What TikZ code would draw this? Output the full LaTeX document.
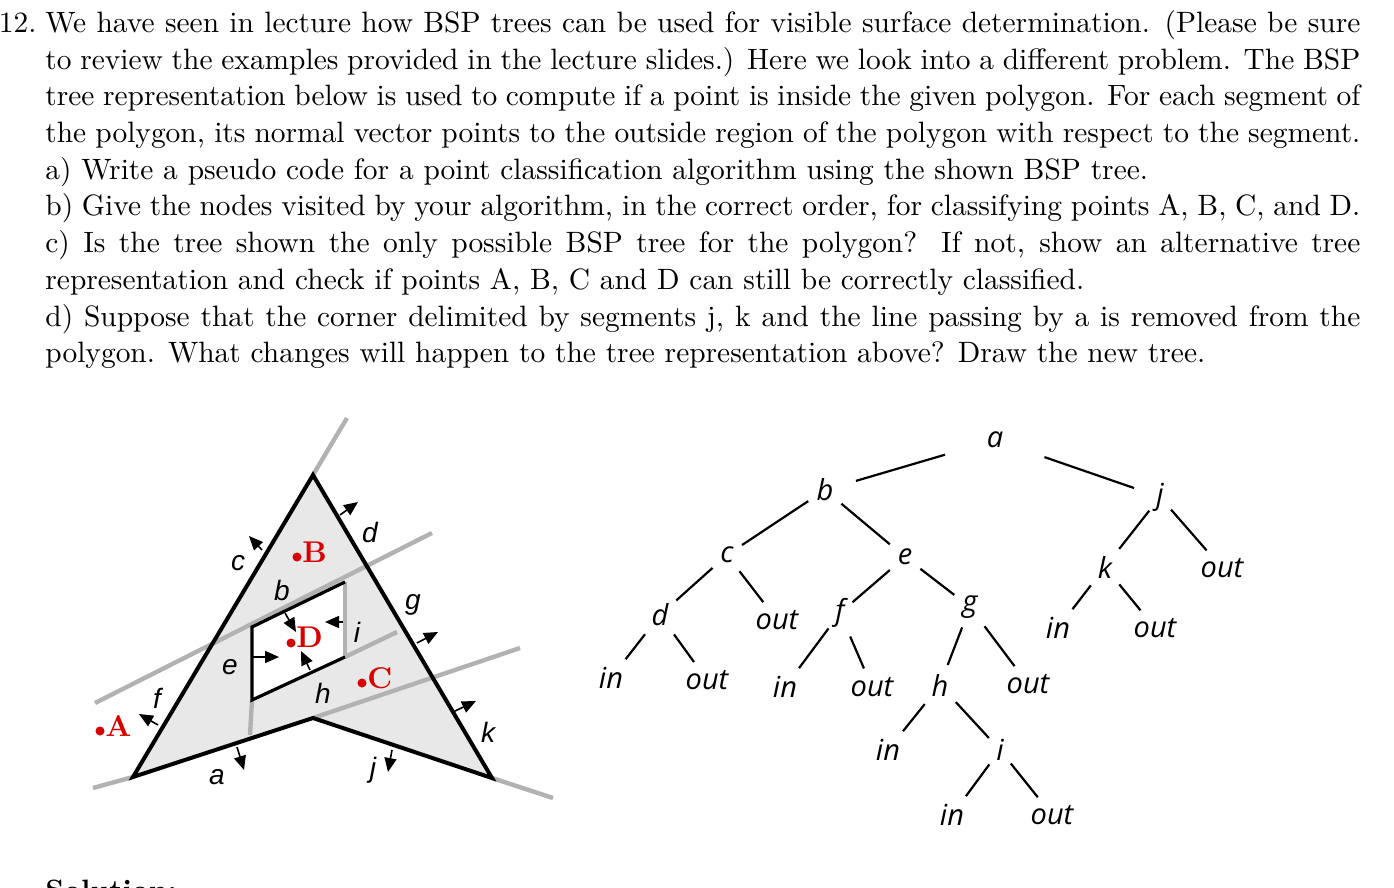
\documentclass[tikz,border=0pt]{standalone}
\usepackage{fontspec}
\setmainfont{lmroman10-regular.otf}[BoldFont=lmroman10-bold.otf,ItalicFont=lmroman10-italic.otf]
\newfontfamily\treefont{Open Sans}
\newfontfamily\figfont{Liberation Sans}
\usetikzlibrary{arrows.meta}
\begin{document}
\begin{tikzpicture}[x=0.5pt,y=-0.5pt,
  txt/.style={anchor=base west,inner sep=0,font=\fontsize{14.72}{18}\selectfont},
  tn/.style={font=\treefont\itshape\fontsize{14.5}{16}\selectfont,inner sep=1.5pt},
  te/.style={line width=1.1pt,shorten <=3pt,shorten >=3pt},
  gl/.style={line width=2.2pt,gray!60},
  edge/.style={line width=2pt,line join=miter},
  nrm/.style={line width=0.8pt,-{Triangle[length=7pt,width=6pt]}},
  fl/.style={font=\figfont\itshape\fontsize{14}{15}\selectfont,inner sep=0},
  pt/.style={font=\bfseries\fontsize{15}{16}\selectfont,text=red!85!black,inner sep=0},
  dot/.style={circle,fill=red!85!black,inner sep=0,minimum size=4.5pt}]
\useasboundingbox (0,0) rectangle (1394,888);
% text
\def\W{657.5pt}
\node[txt,anchor=base east] (n12) at (37,33) {12.};
\node[txt] (l1) at (45,33) {\makebox[\W][s]{We have seen in lecture how BSP trees can be used for visible surface determination. (Please be sure}};
\node[txt] (l2) at (45,70) {\makebox[\W][s]{to review the examples provided in the lecture slides.) Here we look into a different problem. The BSP}};
\node[txt] (l3) at (45,106) {\makebox[\W][s]{tree representation below is used to compute if a point is inside the given polygon. For each segment of}};
\node[txt] (l4) at (45,143) {\makebox[\W][s]{the polygon, its normal vector points to the outside region of the polygon with respect to the segment.}};
\node[txt] (l5) at (45,180) {a) Write a pseudo code for a point classification algorithm using the shown BSP tree.};
\node[txt] (l6) at (45,216) {\makebox[\W][s]{b) Give the nodes visited by your algorithm, in the correct order, for classifying points A, B, C, and D.}};
\node[txt] (l7) at (45,253) {\makebox[\W][s]{c) Is the tree shown the only possible BSP tree for the polygon? If not, show an alternative tree}};
\node[txt] (l8) at (45,289) {representation and check if points A, B, C and D can still be correctly classified.};
\node[txt] (l9) at (45,326) {\makebox[\W][s]{d) Suppose that the corner delimited by segments j, k and the line passing by a is removed from the}};
\node[txt] (l10) at (45,362) {polygon. What changes will happen to the tree representation above? Draw the new tree.};
\node[txt,font=\bfseries\fontsize{14.72}{18}\selectfont] (sol) at (45,900) {Solution:};
% figure
\coordinate (BL) at (133,777); \coordinate (AP) at (313,475);
\coordinate (BR) at (492,778); \coordinate (NT) at (313,718);
\coordinate (RTL) at (252,627); \coordinate (RTR) at (345,582);
\coordinate (RBR) at (345,657); \coordinate (RBL) at (252,700);
\fill[gray!18] (BL) -- (AP) -- (BR) -- (NT) -- cycle;
\fill[white] (RTL) -- (RTR) -- (RBR) -- (RBL) -- cycle;
\draw[gl] (AP) -- (347,418);
\draw[gl] (95,703) -- (432,533);
\draw[gl] (93,788) -- (BL);
\draw[gl] (NT) -- (520,648);
\draw[gl] (BR) -- (553,798);
\draw[gl] (RBL) -- (250,735);
\draw[gl] (RBR) -- (397,632);
\draw[gl] (RTR) -- (RBR);
\draw[edge] (BL) -- (AP) -- (BR) -- (NT) -- cycle;
\draw[line width=1.6pt] (RBR) -- (RBL) -- (RTL) -- (RTR);
\draw[nrm] (262,550) -- (249,536);
\draw[nrm] (340,515) -- (358,502);
\draw[nrm] (158,725) -- (139,714);
\draw[nrm] (237,747) -- (244,770);
\draw[nrm] (392,750) -- (388,772);
\draw[nrm] (417,643) -- (438,632);
\draw[nrm] (453,712) -- (476,701);
\draw[nrm] (253,657) -- (279,657);
\draw[nrm] (285,613) -- (296,632);
\draw[nrm] (343,622) -- (325,622);
\draw[nrm] (310,670) -- (301,651);
\node[fl] (lc) at (238,563) {c}; \node[fl] (ld) at (370,532) {d};
\node[fl] (lb) at (282,590) {b}; \node[fl] (lg) at (413,605) {g};
\node[fl] (li) at (357,632) {i}; \node[fl] (le) at (230,667) {e};
\node[fl] (lh) at (323,693) {h}; \node[fl] (lf) at (157,698) {f};
\node[fl] (lk) at (488,732) {k}; \node[fl] (la) at (217,777) {a};
\node[fl] (lj) at (373,770) {j};
\node[dot] (dB) at (297,557) {}; \node[pt,anchor=west] (pB) at (302,552) {B};
\node[dot] (dD) at (291,643) {}; \node[pt,anchor=west] (pD) at (296,637) {D};
\node[dot] (dC) at (362,683) {}; \node[pt,anchor=west] (pC) at (367,678) {C};
\node[dot] (dA) at (100,731) {}; \node[pt,anchor=west] (pA) at (105,726) {A};
% tree
\node[tn] (a) at (995,440) {a};
\node[tn] (b) at (825,490) {b};
\node[tn] (j) at (1160,497) {j};
\node[tn] (c) at (727,555) {c};
\node[tn] (e) at (905,557) {e};
\node[tn] (k) at (1105,567) {k};
\node[tn] (oj) at (1222,568) {out};
\node[tn] (d) at (660,615) {d};
\node[tn] (oc) at (777,620) {out};
\node[tn] (f) at (840,613) {f};
\node[tn] (g) at (970,607) {g};
\node[tn] (ik) at (1058,628) {in};
\node[tn] (ok) at (1155,628) {out};
\node[tn] (id) at (611,678) {in};
\node[tn] (od) at (707,680) {out};
\node[tn] (if) at (785,687) {in};
\node[tn] (of) at (872,687) {out};
\node[tn] (h) at (940,685) {h};
\node[tn] (og) at (1028,684) {out};
\node[tn] (ih) at (888,750) {in};
\node[tn] (i) at (1000,750) {i};
\node[tn] (ii) at (952,815) {in};
\node[tn] (oi) at (1052,815) {out};
\draw[te,shorten <=20pt,shorten >=10pt] (a) -- (b);
\draw[te,shorten <=20pt,shorten >=10pt] (a) -- (j);
\foreach \p/\q in {b/c,b/e,c/d,c/oc,e/f,e/g,d/id,d/od,f/if,f/of,g/h,g/og,h/ih,h/i,i/ii,i/oi,j/k,j/oj,k/ik,k/ok}
  \draw[te] (\p) -- (\q);
\end{tikzpicture}
\end{document}
